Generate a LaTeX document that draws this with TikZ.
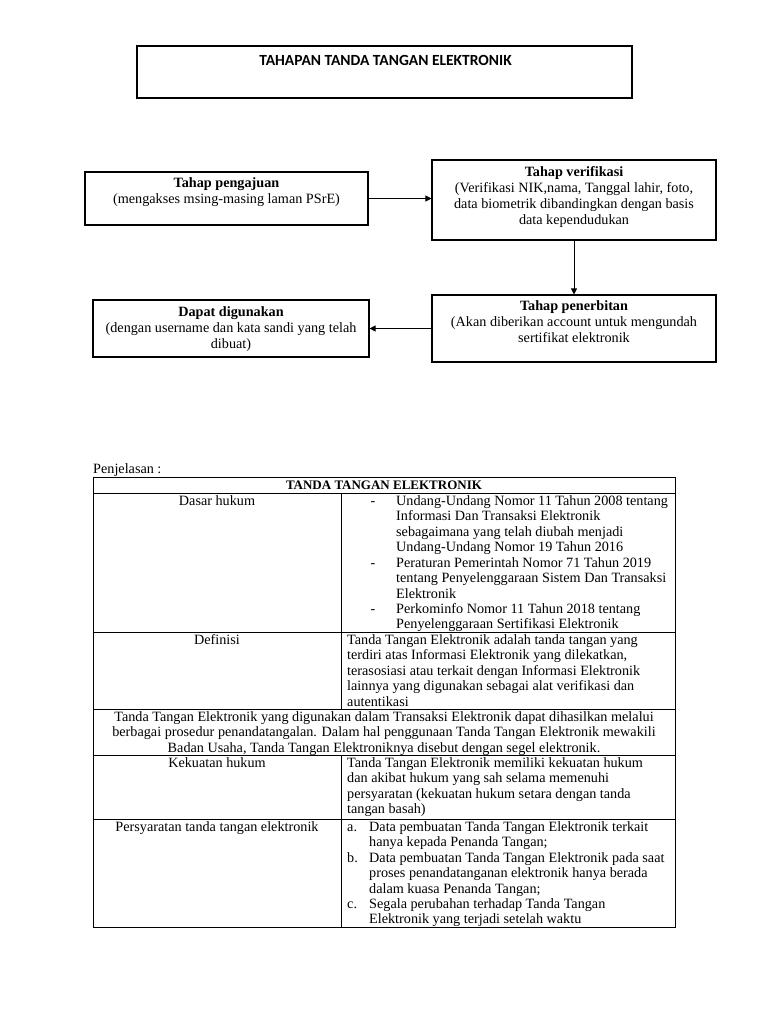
\documentclass[tikz,border=0pt]{standalone}
\usepackage{fontspec}
\setmainfont{Liberation Serif}
\newfontfamily\calib{Carlito}
\usetikzlibrary{arrows.meta}
\begin{document}
\begin{tikzpicture}[x=1pt,y=-1pt,
  box/.style={draw=black,line width=1.1pt,inner sep=0pt},
  ftxt/.style={align=center,inner sep=0pt,font=\fontsize{14.2}{16}\selectfont},
  ttxt/.style={inner sep=0pt,font=\fontsize{14.2}{15.5}\selectfont},
  arr/.style={line width=0.8pt,-{Triangle[length=6pt,width=6pt]}},
  grid/.style={line width=0.9pt}]
\useasboundingbox (0,0) rectangle (768,1024);
% title
\node[box,minimum width=495pt,minimum height=52pt] (title) at (384.5,72) {};
\node[inner sep=0pt,font=\calib\bfseries\fontsize{15.5}{17}\selectfont] (titletxt) at (385.5,60) {TAHAPAN TANDA TANGAN ELEKTRONIK};
% flow boxes
\node[box,minimum width=283pt,minimum height=53pt] (b1) at (226.5,198.5) {};
\node[ftxt,anchor=north] (t1) at (226.5,177.5) {\textbf{Tahap pengajuan}\\(mengakses msing-masing laman PSrE)};
\node[box,minimum width=284pt,minimum height=80pt] (b2) at (574,200) {};
\node[ftxt,anchor=north] (t2) at (574,166.5) {\textbf{Tahap verifikasi}\\(Verifikasi NIK,nama, Tanggal lahir, foto,\\data biometrik dibandingkan dengan basis\\data kependudukan};
\node[box,minimum width=284pt,minimum height=67pt] (b3) at (574,328.5) {};
\node[ftxt,anchor=north] (t3) at (574,300.5) {\textbf{Tahap penerbitan}\\(Akan diberikan account untuk mengundah\\sertifikat elektronik};
\node[box,minimum width=276pt,minimum height=57pt] (b4) at (231,328.5) {};
\node[ftxt,anchor=north] (t4) at (231,306.5) {\textbf{Dapat digunakan}\\(dengan username dan kata sandi yang telah\\dibuat)};
\draw[arr] (b1.east) -- (b1.east -| b2.west);
\draw[arr] (b2.south) -- (b3.north);
\draw[arr] (b3.west) -- (b3.west -| b4.east);
% table
\node[ttxt,anchor=west] (pj) at (93,470) {Penjelasan :};
\draw[grid] (93,477) rectangle (675,927);
\foreach \yy in {493,632,709,755,819} \draw[grid] (93,\yy) -- (675,\yy);
\draw[grid] (341,493) -- (341,709);
\draw[grid] (341,755) -- (341,927);
\node[ttxt,font=\bfseries\fontsize{13}{15.5}\selectfont] (hdr) at (384,485.5) {TANDA TANGAN ELEKTRONIK};
\node[ttxt,anchor=north] (l1) at (217,495) {Dasar hukum};
\node[ttxt,anchor=north] (l2) at (217,634) {Definisi};
\node[ttxt,anchor=north] (l3) at (217,757) {Kekuatan hukum};
\node[ttxt,anchor=north] (l4) at (217,821) {Persyaratan tanda tangan elektronik};
% dasar hukum list
\node[ttxt,anchor=north] (d1) at (373,495) {\vphantom{Ud}-};
\node[ttxt,anchor=north west,align=left] (r1a) at (396,495) {Undang-Undang Nomor 11 Tahun 2008 tentang\\Informasi Dan Transaksi Elektronik\\sebagaimana yang telah diubah menjadi\\Undang-Undang Nomor 19 Tahun 2016};
\node[ttxt,anchor=north] (d2) at (373,557) {\vphantom{Ud}-};
\node[ttxt,anchor=north west,align=left] (r1b) at (396,557) {Peraturan Pemerintah Nomor 71 Tahun 2019\\tentang Penyelenggaraan Sistem Dan Transaksi\\Elektronik};
\node[ttxt,anchor=north] (d3) at (373,603) {\vphantom{Ud}-};
\node[ttxt,anchor=north west,align=left] (r1c) at (396,603) {Perkominfo Nomor 11 Tahun 2018 tentang\\Penyelenggaraan Sertifikasi Elektronik};
% definisi
\node[ttxt,anchor=north west,align=left] (r2) at (347,634) {Tanda Tangan Elektronik adalah tanda tangan yang\\terdiri atas Informasi Elektronik yang dilekatkan,\\terasosiasi atau terkait dengan Informasi Elektronik\\lainnya yang digunakan sebagai alat verifikasi dan\\autentikasi};
% full row
\node[ttxt,anchor=north,align=center] (full) at (384,711) {Tanda Tangan Elektronik yang digunakan dalam Transaksi Elektronik dapat dihasilkan melalui\\berbagai prosedur penandatangalan. Dalam hal penggunaan Tanda Tangan Elektronik mewakili\\Badan Usaha, Tanda Tangan Elektroniknya disebut dengan segel elektronik.};
% kekuatan
\node[ttxt,anchor=north west,align=left] (r3) at (347,757) {Tanda Tangan Elektronik memiliki kekuatan hukum\\dan akibat hukum yang sah selama memenuhi\\persyaratan (kekuatan hukum setara dengan tanda\\tangan basah)};
% persyaratan
\node[ttxt,anchor=north west] (pa) at (347,821) {\vphantom{Ud}a.};
\node[ttxt,anchor=north west,align=left] (r4a) at (369,821) {Data pembuatan Tanda Tangan Elektronik terkait\\hanya kepada Penanda Tangan;};
\node[ttxt,anchor=north west] (pb) at (347,852) {\vphantom{Ud}b.};
\node[ttxt,anchor=north west,align=left] (r4b) at (369,852) {Data pembuatan Tanda Tangan Elektronik pada saat\\proses penandatanganan elektronik hanya berada\\dalam kuasa Penanda Tangan;};
\node[ttxt,anchor=north west] (pc) at (347,898) {\vphantom{Ud}c.};
\node[ttxt,anchor=north west,align=left] (r4c) at (369,898) {Segala perubahan terhadap Tanda Tangan\\Elektronik yang terjadi setelah waktu};
\end{tikzpicture}
\end{document}
